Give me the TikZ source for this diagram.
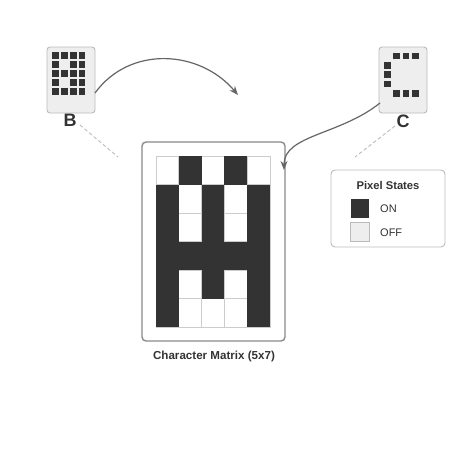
\documentclass[tikz,border=0pt]{standalone}
\usepackage{fontspec}
\setmainfont{Liberation Sans}
\usetikzlibrary{arrows.meta}
\definecolor{onc}{HTML}{333333}
\definecolor{offc}{HTML}{EEEEEE}
\definecolor{gridc}{HTML}{CCCCCC}
\definecolor{framec}{HTML}{8A8A8A}
\definecolor{boxc}{HTML}{BBBBBB}
\definecolor{arrc}{HTML}{666666}
\definecolor{dashc}{HTML}{BBBBBB}
\tikzset{
  smallbox/.style={draw=boxc, fill=offc, rounded corners=3pt, line width=0.9pt, minimum width=48pt, minimum height=66pt, inner sep=0pt},
  onpix/.style={fill=onc, draw=none},
  letter/.style={font=\bfseries\fontsize{18}{18}\selectfont, text=onc, inner sep=0pt},
  curvearrow/.style={draw=arrc, line width=1.2pt, -{Stealth[length=9pt,width=7pt]}},
  hint/.style={draw=dashc, line width=0.9pt, dash pattern=on 3.5pt off 2.5pt},
}
\begin{document}
\begin{tikzpicture}[x=1pt,y=-1pt]
\useasboundingbox[fill=white] (0,0) rectangle (474,474);

% B box
\node[smallbox] (bbox) at (71,80) {};
\foreach \r/\c in {0/0,0/1,0/2,0/3, 1/0,1/2,1/3, 2/0,2/1,2/2,2/3, 3/0,3/2,3/3, 4/0,4/1,4/2,4/3}
  \fill[onc] ({52.3+\c*8.8},{52.3+\r*9}) rectangle ++(6.6,6.6);
\node[letter] (blab) at (70,120) {B};

% C box
\node[smallbox] (cbox) at (403,80) {};
\foreach \r/\c in {0/1,0/2,0/3, 1/0, 2/0, 3/0, 4/1,4/2,4/3}
  \fill[onc] ({383.8+\c*9.4},{52.6+\r*9.3}) rectangle ++(6.8,6.8);
\node[letter] (clab) at (403,121) {C};

% main frame
\node[draw=framec, line width=1.4pt, rounded corners=4pt, minimum width=143pt, minimum height=199pt, inner sep=0pt] (frame) at (213.5,241.5) {};
% white cells
\foreach \r in {0,...,5}
  \foreach \c in {0,...,4}
    \draw[gridc, line width=0.9pt, fill=white] ({156+\c*22.8},{156+\r*28.5}) rectangle ++(22.8,28.5);
% on cells
\foreach \r/\c in {0/1,0/3, 1/0,1/2,1/4, 2/0,2/2,2/4, 3/0,3/1,3/2,3/3,3/4, 4/0,4/2,4/4, 5/0,5/4}
  \fill[onc] ({156+\c*22.8},{156+\r*28.5}) rectangle ++(22.8,28.5);
\node[font=\bfseries\fontsize{11.6}{13}\selectfont, text=onc] (mlab) at (214,356) {Character Matrix (5x7)};

% legend
\node[draw=boxc, line width=0.9pt, rounded corners=4pt, minimum width=114pt, minimum height=77pt, inner sep=0pt] (legend) at (388,208.5) {};
\node[font=\bfseries\fontsize{11.2}{13}\selectfont, text=onc] (ltitle) at (388,185) {Pixel States};
\node[fill=onc, minimum size=18.5pt, inner sep=0pt] (onsw) at (360,208.5) {};
\node[fill=offc, draw=boxc, line width=0.8pt, minimum size=18.5pt, inner sep=0pt] (offsw) at (360,232) {};
\node[anchor=west, font=\fontsize{11}{13}\selectfont, text=onc, inner sep=0pt] (ontxt) at (380,209) {ON};
\node[anchor=west, font=\fontsize{11}{13}\selectfont, text=onc, inner sep=0pt] (offtxt) at (380,232.5) {OFF};

% arrows
\coordinate (a1s) at (95,93);
\coordinate (a1e) at (238,95);
\draw[curvearrow] (a1s) .. controls (130,45) and (200,50) .. (a1e);
\coordinate (a2s) at (380,103);
\coordinate (a2e) at (284,170);
\draw[curvearrow] (a2s) .. controls (340,135) and (284,135) .. (a2e);

% dashed hints
\coordinate (d1e) at (118,157);
\coordinate (d2e) at (355,157);
\draw[hint] (80,125) -- (d1e);
\draw[hint] (395,126) -- (d2e);
\end{tikzpicture}
\end{document}
